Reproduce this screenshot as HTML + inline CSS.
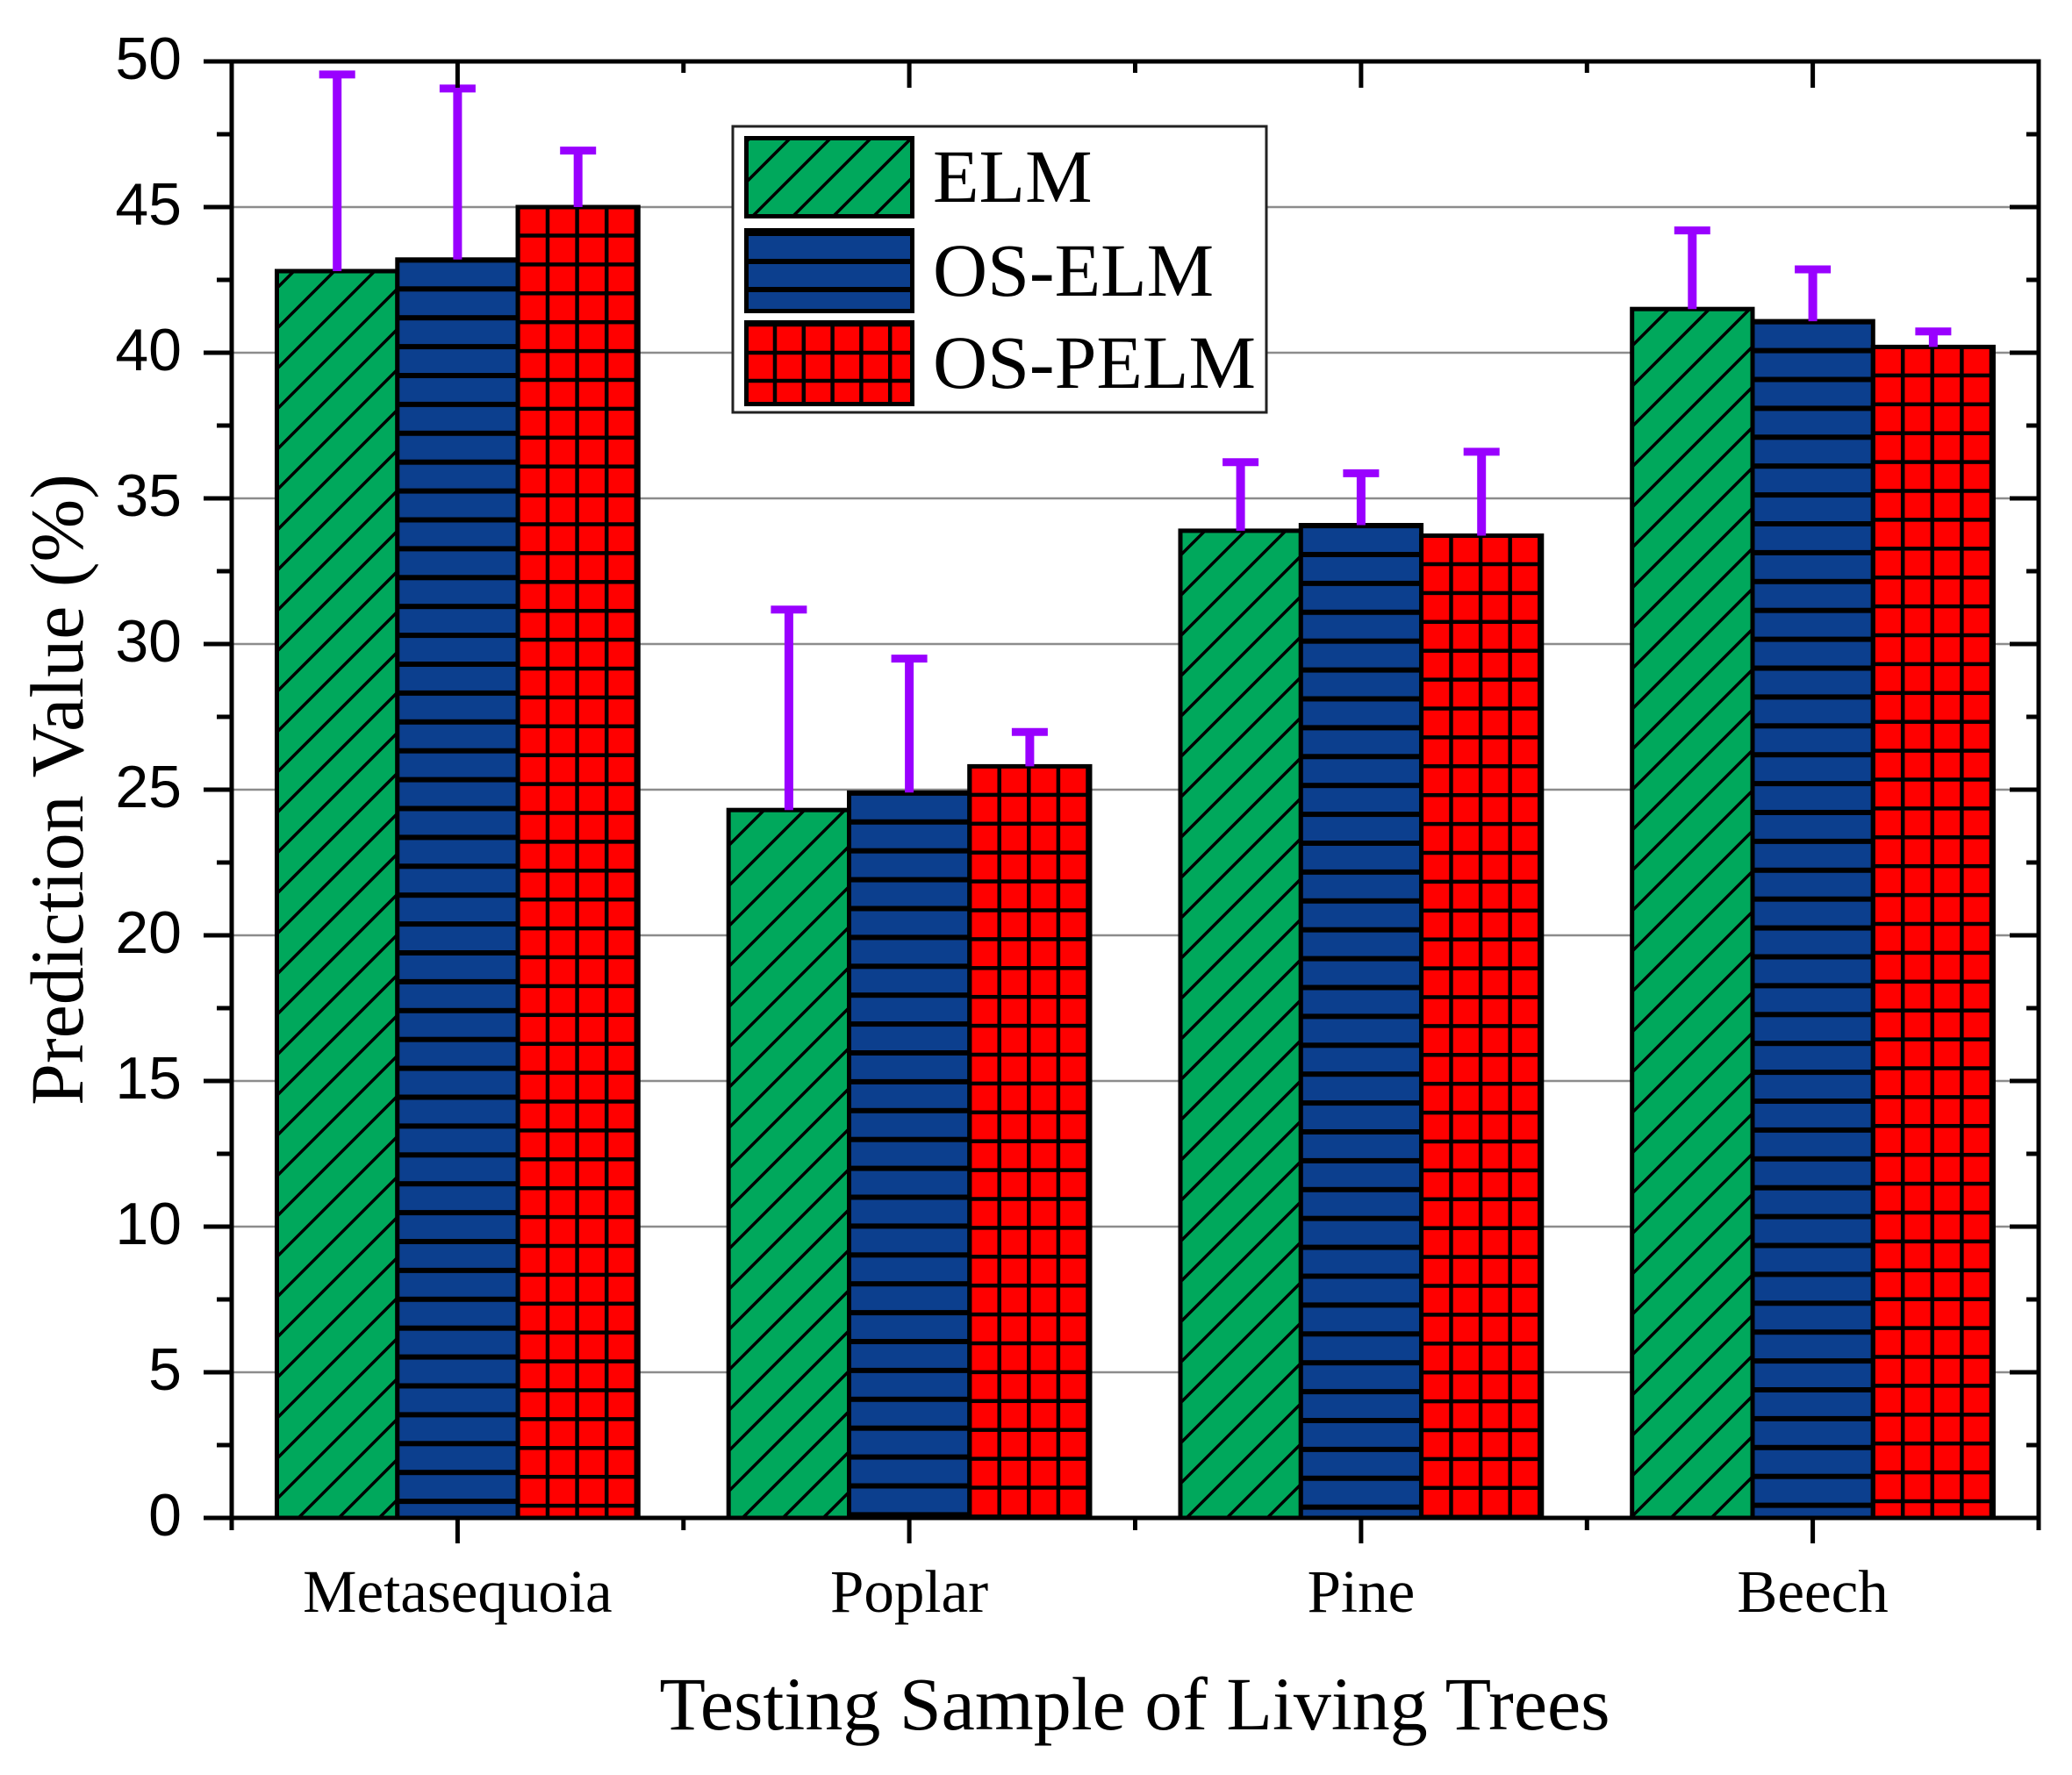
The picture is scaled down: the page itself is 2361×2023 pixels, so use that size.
<!DOCTYPE html>
<html><head><meta charset="utf-8"><style>
html,body{margin:0;padding:0;background:#fff;}
svg{display:block;}
</style></head><body>
<svg width="2361" height="2023" viewBox="0 0 2361 2023" xmlns="http://www.w3.org/2000/svg">
<defs>
  <!-- green hatch -->
  <pattern id="gh" patternUnits="userSpaceOnUse" x="0" y="0" width="46" height="46">
    <rect width="46" height="46" fill="#00a85c"/>
    <path d="M-4,50 L50,-4 M-4,4 L4,-4 M42,50 L50,42" stroke="#000" stroke-width="3.5" fill="none"/>
  </pattern>
  <!-- blue patterns per bar (top anchored) -->
  <pattern id="b0" patternUnits="userSpaceOnUse" x="0" y="326.3" width="300" height="32.9"><rect width="300" height="32.9" fill="#0c3f8e"/><rect width="300" height="6" fill="#000"/></pattern>
  <pattern id="b1" patternUnits="userSpaceOnUse" x="0" y="933.8" width="300" height="32.9"><rect width="300" height="32.9" fill="#0c3f8e"/><rect width="300" height="6" fill="#000"/></pattern>
  <pattern id="b2" patternUnits="userSpaceOnUse" x="0" y="629.0" width="300" height="32.9"><rect width="300" height="32.9" fill="#0c3f8e"/><rect width="300" height="6" fill="#000"/></pattern>
  <pattern id="b3" patternUnits="userSpaceOnUse" x="0" y="396.6" width="300" height="32.9"><rect width="300" height="32.9" fill="#0c3f8e"/><rect width="300" height="6" fill="#000"/></pattern>
  <pattern id="bL" patternUnits="userSpaceOnUse" x="0" y="295" width="300" height="32"><rect width="300" height="32" fill="#0c3f8e"/><rect width="300" height="6" fill="#000"/></pattern>
  <!-- red grid patterns -->
  <pattern id="r0" patternUnits="userSpaceOnUse" x="621.75" y="266.25" width="33.6" height="32.9"><rect width="33.6" height="32.9" fill="#ff0000"/><rect width="4.5" height="32.9" fill="#000"/><rect width="33.6" height="4.5" fill="#000"/></pattern>
  <pattern id="r1" patternUnits="userSpaceOnUse" x="1136.45" y="903.65" width="33.6" height="32.9"><rect width="33.6" height="32.9" fill="#ff0000"/><rect width="4.5" height="32.9" fill="#000"/><rect width="33.6" height="4.5" fill="#000"/></pattern>
  <pattern id="r2" patternUnits="userSpaceOnUse" x="1651.25" y="640.75" width="33.6" height="32.9"><rect width="33.6" height="32.9" fill="#ff0000"/><rect width="4.5" height="32.9" fill="#000"/><rect width="33.6" height="4.5" fill="#000"/></pattern>
  <pattern id="r3" patternUnits="userSpaceOnUse" x="2165.95" y="425.65" width="33.6" height="32.9"><rect width="33.6" height="32.9" fill="#ff0000"/><rect width="4.5" height="32.9" fill="#000"/><rect width="33.6" height="4.5" fill="#000"/></pattern>
  <pattern id="rL" patternUnits="userSpaceOnUse" x="880.75" y="399.75" width="32.8" height="32"><rect width="32.8" height="32" fill="#ff0000"/><rect width="4.5" height="32" fill="#000"/><rect width="32.8" height="4.5" fill="#000"/></pattern>
</defs>

<rect width="2361" height="2023" fill="#fff"/>

<!-- gridlines -->
<g stroke="#8c8c8c" stroke-width="2.5">
  <line x1="264" y1="1564" x2="2323" y2="1564"/>
  <line x1="264" y1="1398" x2="2323" y2="1398"/>
  <line x1="264" y1="1232" x2="2323" y2="1232"/>
  <line x1="264" y1="1066" x2="2323" y2="1066"/>
  <line x1="264" y1="900" x2="2323" y2="900"/>
  <line x1="264" y1="734" x2="2323" y2="734"/>
  <line x1="264" y1="568" x2="2323" y2="568"/>
  <line x1="264" y1="402" x2="2323" y2="402"/>
  <line x1="264" y1="236" x2="2323" y2="236"/>
</g>

<!-- bars -->
<g stroke="#000" stroke-width="5">
  <!-- Metasequoia -->
  <rect x="315.5" y="309.0" width="137.3" height="1421.0" fill="url(#gh)"/>
  <rect x="452.8" y="295.8" width="137.3" height="1434.2" fill="url(#b0)"/>
  <rect x="590.0" y="236.0" width="137.3" height="1494.0" fill="url(#r0)"/>
  <!-- Poplar -->
  <rect x="830.2" y="923.2" width="137.3" height="806.8" fill="url(#gh)"/>
  <rect x="967.5" y="903.3" width="137.3" height="826.7" fill="url(#b1)"/>
  <rect x="1104.7" y="873.4" width="137.3" height="856.6" fill="url(#r1)"/>
  <!-- Pine -->
  <rect x="1345.0" y="604.9" width="137.3" height="1125.1" fill="url(#gh)"/>
  <rect x="1482.3" y="598.5" width="137.3" height="1131.5" fill="url(#b2)"/>
  <rect x="1619.5" y="610.5" width="137.3" height="1119.5" fill="url(#r2)"/>
  <!-- Beech -->
  <rect x="1859.7" y="352.2" width="137.3" height="1377.8" fill="url(#gh)"/>
  <rect x="1997.0" y="366.1" width="137.3" height="1363.9" fill="url(#b3)"/>
  <rect x="2134.2" y="395.4" width="137.3" height="1334.6" fill="url(#r3)"/>
</g>

<!-- error bars -->
<g stroke="#9900ff" fill="none">
  <g stroke-width="10">
    <line x1="384.2" y1="309" x2="384.2" y2="84.9"/>
    <line x1="521.4" y1="295.8" x2="521.4" y2="100.9"/>
    <line x1="658.7" y1="236" x2="658.7" y2="171.6"/>
    <line x1="898.9" y1="923.2" x2="898.9" y2="694.8"/>
    <line x1="1036.1" y1="903.3" x2="1036.1" y2="750.6"/>
    <line x1="1173.4" y1="873.4" x2="1173.4" y2="834.3"/>
    <line x1="1413.6" y1="604.9" x2="1413.6" y2="526.8"/>
    <line x1="1550.9" y1="598.5" x2="1550.9" y2="539.4"/>
    <line x1="1688.2" y1="610.5" x2="1688.2" y2="514.9"/>
    <line x1="1928.3" y1="352.2" x2="1928.3" y2="262.6"/>
    <line x1="2065.6" y1="366.1" x2="2065.6" y2="307.0"/>
    <line x1="2202.9" y1="395.4" x2="2202.9" y2="377.8"/>
  </g>
  <g stroke-width="9">
    <line x1="363.7" y1="84.9" x2="404.7" y2="84.9"/>
    <line x1="500.9" y1="100.9" x2="541.9" y2="100.9"/>
    <line x1="638.2" y1="171.6" x2="679.2" y2="171.6"/>
    <line x1="878.4" y1="694.8" x2="919.4" y2="694.8"/>
    <line x1="1015.6" y1="750.6" x2="1056.6" y2="750.6"/>
    <line x1="1152.9" y1="834.3" x2="1193.9" y2="834.3"/>
    <line x1="1393.1" y1="526.8" x2="1434.1" y2="526.8"/>
    <line x1="1530.4" y1="539.4" x2="1571.4" y2="539.4"/>
    <line x1="1667.7" y1="514.9" x2="1708.7" y2="514.9"/>
    <line x1="1907.8" y1="262.6" x2="1948.8" y2="262.6"/>
    <line x1="2045.1" y1="307.0" x2="2086.1" y2="307.0"/>
    <line x1="2182.4" y1="377.8" x2="2223.4" y2="377.8"/>
  </g>
</g>

<!-- axes frame -->
<rect x="264" y="70" width="2059" height="1660" fill="none" stroke="#000" stroke-width="5"/>

<!-- ticks -->
<g stroke="#000" stroke-width="5">
  <!-- left major -->
  <line x1="232" y1="1730" x2="264" y2="1730"/><line x1="232" y1="1564" x2="264" y2="1564"/>
  <line x1="232" y1="1398" x2="264" y2="1398"/><line x1="232" y1="1232" x2="264" y2="1232"/>
  <line x1="232" y1="1066" x2="264" y2="1066"/><line x1="232" y1="900" x2="264" y2="900"/>
  <line x1="232" y1="734" x2="264" y2="734"/><line x1="232" y1="568" x2="264" y2="568"/>
  <line x1="232" y1="402" x2="264" y2="402"/><line x1="232" y1="236" x2="264" y2="236"/>
  <line x1="232" y1="70" x2="264" y2="70"/>
  <!-- left minor -->
  <line x1="247" y1="1647" x2="264" y2="1647"/><line x1="247" y1="1481" x2="264" y2="1481"/>
  <line x1="247" y1="1315" x2="264" y2="1315"/><line x1="247" y1="1149" x2="264" y2="1149"/>
  <line x1="247" y1="983" x2="264" y2="983"/><line x1="247" y1="817" x2="264" y2="817"/>
  <line x1="247" y1="651" x2="264" y2="651"/><line x1="247" y1="485" x2="264" y2="485"/>
  <line x1="247" y1="319" x2="264" y2="319"/><line x1="247" y1="153" x2="264" y2="153"/>
  <!-- right major (inward) -->
  <line x1="2290" y1="1564" x2="2323" y2="1564"/><line x1="2290" y1="1398" x2="2323" y2="1398"/>
  <line x1="2290" y1="1232" x2="2323" y2="1232"/><line x1="2290" y1="1066" x2="2323" y2="1066"/>
  <line x1="2290" y1="900" x2="2323" y2="900"/><line x1="2290" y1="734" x2="2323" y2="734"/>
  <line x1="2290" y1="568" x2="2323" y2="568"/><line x1="2290" y1="402" x2="2323" y2="402"/>
  <line x1="2290" y1="236" x2="2323" y2="236"/>
  <!-- right minor -->
  <line x1="2309" y1="1647" x2="2323" y2="1647"/><line x1="2309" y1="1481" x2="2323" y2="1481"/>
  <line x1="2309" y1="1315" x2="2323" y2="1315"/><line x1="2309" y1="1149" x2="2323" y2="1149"/>
  <line x1="2309" y1="983" x2="2323" y2="983"/><line x1="2309" y1="817" x2="2323" y2="817"/>
  <line x1="2309" y1="651" x2="2323" y2="651"/><line x1="2309" y1="485" x2="2323" y2="485"/>
  <line x1="2309" y1="319" x2="2323" y2="319"/><line x1="2309" y1="153" x2="2323" y2="153"/>
  <!-- top -->
  <line x1="521.4" y1="70" x2="521.4" y2="100"/><line x1="1036.1" y1="70" x2="1036.1" y2="100"/>
  <line x1="1550.9" y1="70" x2="1550.9" y2="100"/><line x1="2065.6" y1="70" x2="2065.6" y2="100"/>
  <line x1="778.8" y1="70" x2="778.8" y2="83"/><line x1="1293.5" y1="70" x2="1293.5" y2="83"/>
  <line x1="1808.3" y1="70" x2="1808.3" y2="83"/>
  <!-- bottom -->
  <line x1="521.4" y1="1730" x2="521.4" y2="1759"/><line x1="1036.1" y1="1730" x2="1036.1" y2="1759"/>
  <line x1="1550.9" y1="1730" x2="1550.9" y2="1759"/><line x1="2065.6" y1="1730" x2="2065.6" y2="1759"/>
  <line x1="264" y1="1730" x2="264" y2="1744"/><line x1="778.8" y1="1730" x2="778.8" y2="1744"/>
  <line x1="1293.5" y1="1730" x2="1293.5" y2="1744"/><line x1="1808.3" y1="1730" x2="1808.3" y2="1744"/>
  <line x1="2323" y1="1730" x2="2323" y2="1744"/>
</g>

<!-- y tick labels -->
<g font-family="'Liberation Sans', Arial, sans-serif" font-size="68" fill="#000" text-anchor="end">
  <text x="207" y="1750">0</text>
  <text x="207" y="1584">5</text>
  <text x="207" y="1418">10</text>
  <text x="207" y="1252">15</text>
  <text x="207" y="1086">20</text>
  <text x="207" y="920">25</text>
  <text x="207" y="754">30</text>
  <text x="207" y="588">35</text>
  <text x="207" y="422">40</text>
  <text x="207" y="256">45</text>
  <text x="207" y="90">50</text>
</g>

<!-- x category labels -->
<g font-family="'Liberation Serif', 'Times New Roman', serif" font-size="69" fill="#000" text-anchor="middle">
  <text x="521.4" y="1837">Metasequoia</text>
  <text x="1036.1" y="1837">Poplar</text>
  <text x="1550.9" y="1837">Pine</text>
  <text x="2065.6" y="1837">Beech</text>
</g>

<!-- axis titles -->
<text x="1293" y="1971" font-family="'Liberation Serif', 'Times New Roman', serif" font-size="86" text-anchor="middle" fill="#000">Testing Sample of Living Trees</text>
<text transform="translate(94,900) rotate(-90)" x="0" y="0" font-family="'Liberation Serif', 'Times New Roman', serif" font-size="86" text-anchor="middle" fill="#000">Prediction Value (%)</text>

<!-- legend -->
<rect x="835" y="144" width="608" height="326" fill="#fff" stroke="#222" stroke-width="3"/>
<g stroke="#000" stroke-width="5">
  <rect x="850.5" y="157.5" width="189" height="89" fill="url(#gh)"/>
  <rect x="850.5" y="262.5" width="189" height="92" fill="url(#bL)"/>
  <rect x="850.5" y="367.5" width="189" height="93" fill="url(#rL)"/>
</g>
<g font-family="'Liberation Serif', 'Times New Roman', serif" font-size="86" fill="#000">
  <text x="1063" y="230">ELM</text>
  <text x="1063" y="337">OS-ELM</text>
  <text x="1063" y="442">OS-PELM</text>
</g>
</svg>
</body></html>
